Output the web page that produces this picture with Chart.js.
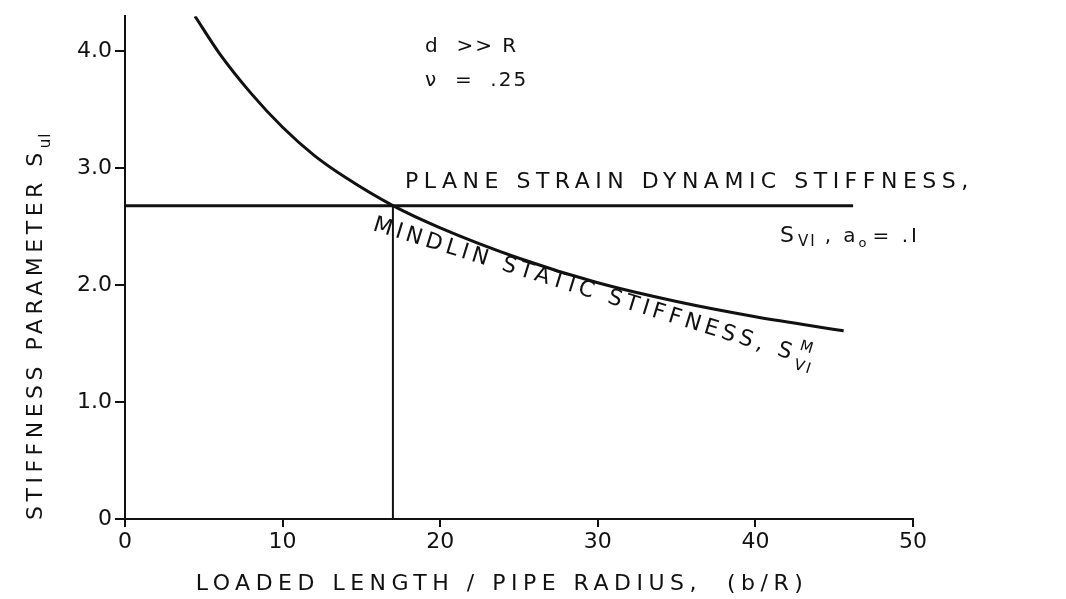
<!DOCTYPE html>
<html><head><meta charset="utf-8">
<script src="https://cdn.jsdelivr.net/npm/chart.js@4"></script>
<style>html,body{margin:0;background:#fff}#w{width:1066px;height:599px}</style>
</head><body><div id="w"><canvas id="c"></canvas></div>
<script>
const mindlinX = [4.44, 6, 8, 10, 12, 14, 17, 20, 25, 30, 35, 40, 45.6];
const mindlinY = [4.3, 3.98, 3.64, 3.35, 3.11, 2.92, 2.68, 2.49, 2.23, 2.02, 1.86, 1.73, 1.61];
const planeX = [0, 46.2];
const planeY = [2.68, 2.68];
const vertX = [17, 17];
const vertY = [0, 2.68];
const xTicks = [0, 10, 20, 30, 40, 50];
const yTicks = [0, 1, 2, 3, 4];
const yTickLabels = ['0', '1.0', '2.0', '3.0', '4.0'];

const pts = (xs, ys) => xs.map((x, i) => ({x, y: ys[i]}));
const F = '"DejaVu Sans", sans-serif';
const ink = '#111';

const labels = {
  id: 'labels',
  afterDraw(ch) {
    const c = ch.ctx, x = ch.scales.x;
    c.save(); c.fillStyle = ink; c.textBaseline = 'alphabetic';
    // draws text in current frame, returns width
    const w = (s, px, py, sz, ls) => {
      c.font = sz + 'px ' + F; c.letterSpacing = (ls || 0) + 'px';
      c.fillText(s, px, py); return c.measureText(s).width;
    };
    w('d  >> R', 425, 52, 20, 2);
    w('ν  =  .25', 425, 86, 20, 2);
    w('PLANE STRAIN DYNAMIC STIFFNESS,', 405, 188, 22, 5.5);
    let p = 780 + w('S', 780, 242, 22, 2);
    p += w('VI', p + 2, 246, 15, 2) + 10;
    p += w(', a', p, 242, 20, 3);
    p += w('o', p, 247, 13, 0) + 6;
    w('= .I', p, 242, 20, 3);
    // rotated Mindlin label
    c.save(); c.translate(372, 230); c.rotate(0.3);
    const mw = w('MINDLIN STATIC STIFFNESS, S', 0, 0, 22, 4.2);
    w('M', mw + 2, -12, 15, 0);
    w('VI', mw + 2, 8, 15, 2);
    c.restore();
    // y title
    c.save(); c.translate(42, 520); c.rotate(-Math.PI / 2);
    const yw = w('STIFFNESS PARAMETER S', 0, 0, 22, 4.5);
    w('ul', yw, 8, 15, 1);
    c.restore();
    // x title
    c.save(); c.textAlign = 'center';
    w('LOADED LENGTH / PIPE RADIUS,  (b/R)', 502, 590, 22, 5.5);
    c.restore();
    c.restore();
  }
};

new Chart(document.getElementById('c'), {
  type: 'scatter',
  data: { datasets: [
    { data: pts(mindlinX, mindlinY), showLine: true, borderColor: ink, borderWidth: 3, pointRadius: 0, cubicInterpolationMode: 'monotone' },
    { data: pts(planeX, planeY), showLine: true, borderColor: ink, borderWidth: 3, pointRadius: 0 },
    { data: pts(vertX, vertY), showLine: true, borderColor: ink, borderWidth: 2, pointRadius: 0 }
  ]},
  options: {
    responsive: true, maintainAspectRatio: false, animation: false,
    layout: { padding: { top: 10, right: 153, left: 0, bottom: 0 } },
    plugins: { legend: { display: false }, tooltip: { enabled: false } },
    scales: {
      x: {
        type: 'linear', min: 0, max: 50,
        afterBuildTicks: s => { s.ticks = xTicks.map(v => ({value: v})); },
        afterFit: s => { s.height = 80; },
        ticks: { color: ink, font: { size: 22, family: F }, padding: 2, maxRotation: 0 },
        grid: { drawOnChartArea: false, color: ink, tickLength: 8, lineWidth: 2 },
        border: { color: ink, width: 2 }
      },
      y: {
        type: 'linear', min: 0, max: 4.3,
        afterBuildTicks: s => { s.ticks = yTicks.map(v => ({value: v})); },
        afterFit: s => { s.width = 125; },
        ticks: { color: ink, font: { size: 22, family: F }, callback: (v) => yTickLabels[yTicks.indexOf(v)] },
        grid: { drawOnChartArea: false, color: ink, tickLength: 10, lineWidth: 2 },
        border: { color: ink, width: 2 }
      }
    }
  },
  plugins: [labels]
});
</script></body></html>
